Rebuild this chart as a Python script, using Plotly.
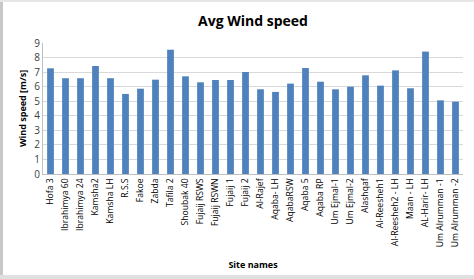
import plotly.graph_objects as go

sites = ["Hofa 3", "Ibrahimya 60", "Ibrahimya 24", "Kamsha2", "Kamsha LH", "R.S.S",
         "Fakoe", "Zabda", "Tafila 2", "Shoubak 40", "Fujaij RSWS", "Fujaij RSWN",
         "Fujaij 1", "Fujaij 2", "Al-Rajef", "Aqaba- LH", "AqabaRSW", "Aqaba 5",
         "Aqaba RP", "Um Ejmal-1", "Um Ejmal-2", "Alashqaf", "Al-Reesheh1",
         "Al-Reesheh2 - LH", "Maan - LH", "AL-Harir- LH", "Um Alrumman -1", "Um Alrumman -2"]
wind_speed = [7.26, 6.58, 6.58, 7.42, 6.58, 5.50, 5.86, 6.48, 8.54, 6.71, 6.30, 6.46,
              6.46, 7.01, 5.82, 5.64, 6.21, 7.28, 6.34, 5.82, 6.00, 6.78, 6.07,
              7.12, 5.89, 8.41, 5.06, 4.97]
y_ticks = list(range(0, 10))

W, H = 474, 279
ml, mr, mt, mb = 43, 11, 43, 105
pw, ph = W - ml - mr, H - mt - mb

def px_x(x):
    return (x - ml) / pw

def px_y(y):
    return (H - mb - y) / ph

fig = go.Figure(go.Bar(x=sites, y=wind_speed, marker_color="#4F81BD", marker_line_width=0))

fig.update_layout(
    width=W, height=H,
    margin=dict(l=ml, r=mr, t=mt, b=mb),
    paper_bgcolor="white", plot_bgcolor="white",
    bargap=0.55,
    showlegend=False,
    font=dict(family="Open Sans, sans-serif", color="#404040"),
    title=dict(text="<b>Avg Wind speed</b>", x=0.5, xanchor="center", xref="paper",
               y=1 - 21 / H, yanchor="middle",
               font=dict(size=14, color="#000000", family="Open Sans, sans-serif")),
    shapes=[
        dict(type="rect", xref="paper", yref="paper", x0=px_x(0), x1=px_x(3),
             y0=px_y(H), y1=px_y(0), fillcolor="#C8C8C8", line_width=0, layer="below"),
        dict(type="rect", xref="paper", yref="paper", x0=px_x(0), x1=px_x(W),
             y0=px_y(H), y1=px_y(275), fillcolor="#E0E0E0", line_width=0, layer="below"),
        dict(type="rect", xref="paper", yref="paper", x0=px_x(0), x1=px_x(W),
             y0=px_y(2), y1=px_y(0), fillcolor="#E6E6E6", line_width=0, layer="below"),
    ],
)

fig.update_yaxes(range=[0, 9], tickvals=y_ticks, showgrid=True, gridcolor="#D9D9D9",
                 gridwidth=1, showline=True, linecolor="#BFBFBF", linewidth=1,
                 ticks="", tickfont=dict(size=10, color="#404040"), zeroline=False,
                 title=dict(text="<b>Wind speed [m/s]</b>", font=dict(size=9, color="#000000"),
                            standoff=6))
fig.update_xaxes(tickangle=-90, tickfont=dict(size=8.6, color="#000000"), showline=True,
                 linecolor="#BFBFBF", linewidth=1, ticks="",
                 title=dict(text="<b>Site names</b>", font=dict(size=9, color="#000000"),
                            standoff=15))

fig.write_html("out.html")
